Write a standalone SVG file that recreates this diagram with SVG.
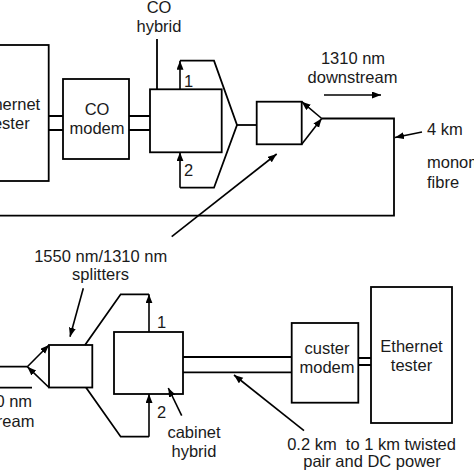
<svg xmlns="http://www.w3.org/2000/svg" width="474" height="474" viewBox="0 0 474 474">
<defs>
<marker id="ah" markerUnits="userSpaceOnUse" markerWidth="10" markerHeight="8" refX="9" refY="3.5" orient="auto">
<path d="M0,0 L9,3.5 L0,7 z" fill="#000"/>
</marker>
<style>
rect,.ln{fill:none;stroke:#000;stroke-width:1.8}
.ln{stroke-linejoin:miter}
.ar{fill:none;stroke:#000;stroke-width:1.6;marker-end:url(#ah)}
text{font-family:"Liberation Sans",Arial,sans-serif;font-size:16.5px;fill:#1a1a1a;text-anchor:middle}
.s{text-anchor:start}
</style>
</defs>
<rect width="474" height="474" fill="#fff" style="stroke:none"/>

<g id="eth-top">
<rect x="-30" y="45" width="78.7" height="136"/>
<text x="9" y="110">Ethernet</text>
<text x="9" y="129">tester</text>
</g>
<g id="co-modem">
<rect x="63" y="79" width="66" height="80"/>
<text x="97" y="115">CO</text>
<text x="97" y="134">modem</text>
</g>
<g id="co-hybrid">
<rect x="150" y="89.3" width="71.7" height="63"/>
<text x="159" y="12.5">CO</text>
<text x="159" y="32">hybrid</text>
</g>
<g id="splitter-top">
<rect x="256.7" y="101.7" width="45" height="42.6"/>
</g>
<g id="splitter-bottom">
<rect x="49" y="345" width="43.3" height="42.5"/>
</g>
<g id="cabinet-hybrid">
<rect x="114" y="332" width="69" height="62"/>
<text x="194" y="438">cabinet</text>
<text x="194" y="457">hybrid</text>
</g>
<g id="custer-modem">
<rect x="291.7" y="323" width="66.6" height="79.7"/>
<text x="327" y="354">custer</text>
<text x="327" y="372.5">modem</text>
</g>
<g id="eth-bottom">
<rect x="371" y="287" width="81" height="136"/>
<text x="411.5" y="352">Ethernet</text>
<text x="411.5" y="371">tester</text>
</g>

<g id="labels">
<text x="353" y="64">1310 nm</text>
<text x="352.5" y="83">downstream</text>
<text class="s" x="427" y="135">4 km</text>
<text class="s" x="427" y="168">monomode</text>
<text class="s" x="427" y="188">fibre</text>
<text class="s" x="184" y="86.5">1</text>
<text class="s" x="184" y="176">2</text>
<text class="s" x="157" y="328.3">1</text>
<text class="s" x="157" y="418.3">2</text>
<text x="100.7" y="261.7">1550 nm/1310 nm</text>
<text x="100.5" y="279.7">splitters</text>
<text x="0" y="407">1550 nm</text>
<text x="0" y="427">upstream</text>
<text x="371.5" y="450">0.2 km&#160; to 1 km twisted</text>
<text x="372" y="467.3">pair and DC power</text>
</g>

<g id="connectors">
<path class="ln" d="M48.7,116 H63 M48.7,130 H63 M129,116 H150 M129,130 H150"/>
<path class="ln" d="M157,89.3 V39"/>
<path class="ar" d="M180,89.3 V60.7"/>
<path class="ln" d="M180,60.7 H214 L237,125 L214,187.7 H180"/>
<path class="ar" d="M180,187.7 V152.3"/>
<path class="ln" d="M237,125 H256.7"/>
<path class="ar" d="M321.7,118.5 L301.7,101.7"/>
<path class="ar" d="M301.7,144.3 L321.7,118.5"/>
<path class="ln" d="M321.7,118.5 H394 V215.7 H-5"/>
<path class="ln" d="M-5,366.7 H27.3"/>
<path class="ar" d="M27.3,366.7 L49,345"/>
<path class="ar" d="M49,387.5 L27.3,366.7"/>
<path class="ln" d="M-5,387.7 H32"/>
<path class="ln" d="M85,345 L120.7,294.3 H149"/>
<path class="ar" d="M149,332 V294.3"/>
<path class="ln" d="M86,387.5 L120.7,436.7 H149"/>
<path class="ar" d="M149,436.7 V394"/>
<path class="ln" d="M183,357 H291.7 M183,372.3 H291.7"/>
<path class="ln" d="M358.3,358 H371 M358.3,365 H371"/>
<path class="ar" d="M324,95 H381"/>
<path class="ar" d="M422,132 L395,137.5"/>
<path class="ar" d="M171.7,236.7 L276.7,154"/>
<path class="ar" d="M83.3,288.3 L70,336.7"/>
<path class="ar" d="M181.7,415.7 L168.3,388"/>
<path class="ar" d="M304,430.7 L234,375"/>
</g>
</svg>
